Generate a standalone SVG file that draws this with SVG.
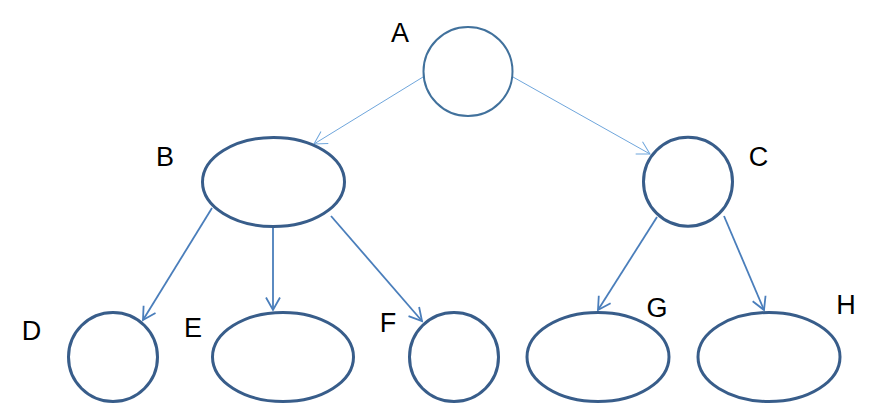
<svg xmlns="http://www.w3.org/2000/svg" width="877" height="404" viewBox="0 0 877 404">
<defs>
<style>
.node{fill:#ffffff;stroke:#385d8a;stroke-width:3}
.top{fill:#ffffff;stroke:#41719c;stroke-width:2}
.thin{fill:none;stroke:#6fa6dc;stroke-width:1}
.edge{fill:none;stroke:#4a7ebb;stroke-width:1.8}
.lbl{font-family:"Liberation Sans",Arial,sans-serif;font-size:27px;fill:#000000;text-anchor:middle}
</style>
<marker id="ah" markerUnits="userSpaceOnUse" markerWidth="20" markerHeight="20" viewBox="-16 -10 20 20" refX="0" refY="0" orient="auto">
<path d="M-12.5,-7 L0,0 L-12.5,7" fill="none" stroke="#4a7ebb" stroke-width="1.8"/>
</marker>
<marker id="ahThin" markerUnits="userSpaceOnUse" markerWidth="20" markerHeight="20" viewBox="-16 -10 20 20" refX="0" refY="0" orient="auto">
<path d="M-12.5,-7 L0,0 L-12.5,7" fill="none" stroke="#6fa6dc" stroke-width="1"/>
</marker>
</defs>
<rect width="877" height="404" fill="#ffffff"/>
<g id="connectors">
<line class="thin" x1="423" y1="77" x2="314" y2="144" marker-end="url(#ahThin)"/>
<line class="thin" x1="513" y1="77" x2="650" y2="154" marker-end="url(#ahThin)"/>
<line class="edge" x1="212" y1="208" x2="143" y2="320" marker-end="url(#ah)"/>
<line class="edge" x1="273" y1="227" x2="273" y2="310" marker-end="url(#ah)"/>
<line class="edge" x1="331" y1="216" x2="422" y2="321" marker-end="url(#ah)"/>
<line class="edge" x1="657" y1="217" x2="598" y2="310" marker-end="url(#ah)"/>
<line class="edge" x1="724" y1="216" x2="764" y2="310" marker-end="url(#ah)"/>
</g>
<g id="node-A">
<circle class="top" cx="468" cy="71.5" r="44.5"/>
<text class="lbl" x="400" y="42">A</text>
</g>
<g id="node-B">
<ellipse class="node" cx="273.5" cy="182" rx="71" ry="44.5"/>
<text class="lbl" x="165" y="166">B</text>
</g>
<g id="node-C">
<circle class="node" cx="688" cy="181.7" r="44.5"/>
<text class="lbl" x="758.5" y="166">C</text>
</g>
<g id="node-D">
<circle class="node" cx="113" cy="357" r="44.5"/>
<text class="lbl" x="31.5" y="340">D</text>
</g>
<g id="node-E">
<ellipse class="node" cx="283" cy="357" rx="70.5" ry="44.5"/>
<text class="lbl" x="193" y="337">E</text>
</g>
<g id="node-F">
<circle class="node" cx="454" cy="357" r="44.5"/>
<text class="lbl" x="388" y="332">F</text>
</g>
<g id="node-G">
<ellipse class="node" cx="598" cy="357" rx="71" ry="44.5"/>
<text class="lbl" x="657" y="317">G</text>
</g>
<g id="node-H">
<ellipse class="node" cx="769" cy="357" rx="71" ry="44.5"/>
<text class="lbl" x="846" y="314">H</text>
</g>
</svg>
